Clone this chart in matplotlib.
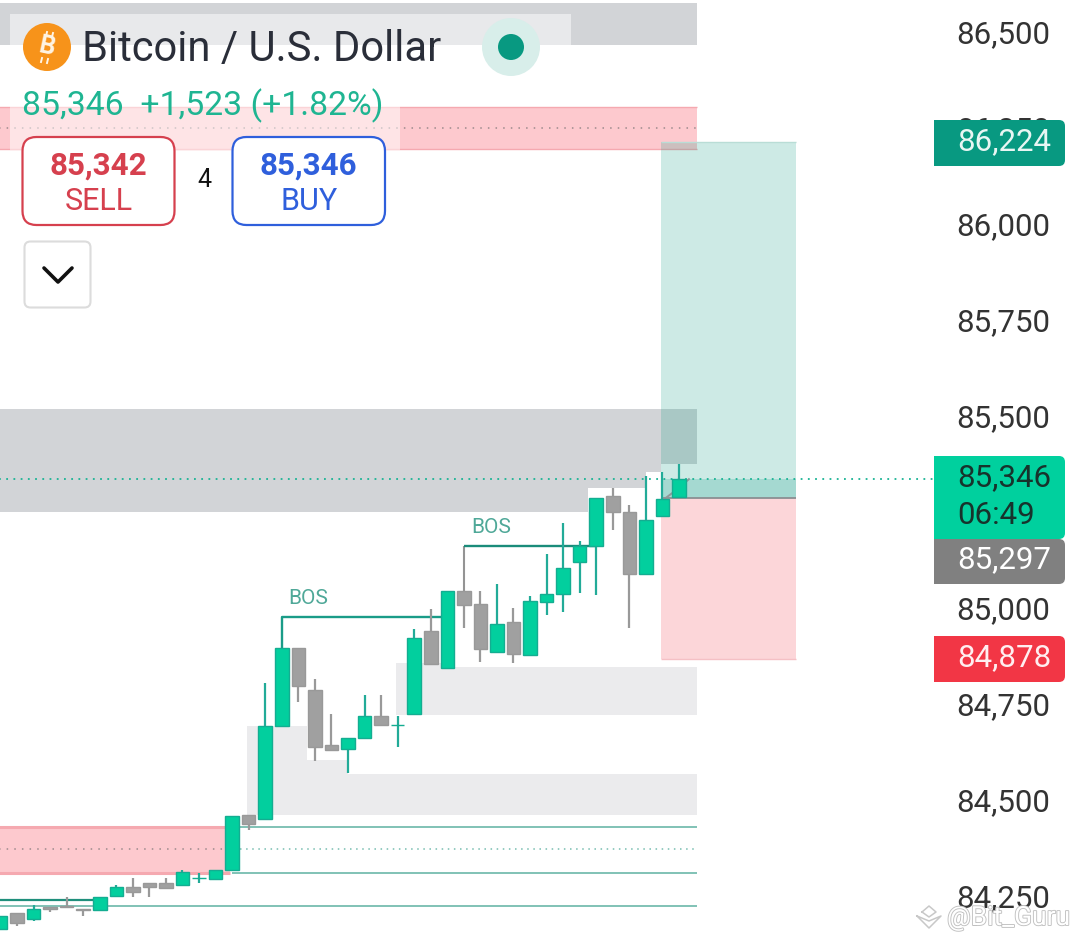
import matplotlib
matplotlib.use("Agg")
import matplotlib.pyplot as plt
import matplotlib.patheffects as pe
from matplotlib.patches import Rectangle, FancyBboxPatch, Circle
from matplotlib.transforms import ScaledTranslation

plt.rcParams['font.family'] = ['Roboto', 'DejaVu Sans']

# =============================================================================
# DATA
# =============================================================================

opens = [84175, 84216, 84201, 84232, 84235, 84227, 84224, 84261, 84285, 84294, 84294, 84288, 84307,
         84306, 84327, 84472, 84460, 84703, 84906, 84797, 84654, 84642, 84672, 84729, 84705, 84735,
         84951, 84854, 85055, 85021, 84897, 84974, 84888, 85026, 85046, 85130, 85172, 85302, 85261,
         85099, 85249, 85300]
closes = [84209, 84190, 84227, 84227, 84232, 84224, 84258, 84285, 84272, 84284, 84281, 84323, 84308,
          84328, 84469, 84448, 84703, 84906, 84806, 84649, 84641, 84672, 84729, 84706, 84706, 84932,
          84865, 85055, 85017, 84904, 84969, 84891, 85029, 85047, 85115, 85172, 85297, 85261, 85099,
          85240, 85294, 85346]
highs = [84209, 84216, 84237, 84232, 84258, 84227, 84258, 84288, 84308, 84294, 84308, 84328, 84321,
         84328, 84469, 84472, 84815, 84906, 84906, 84826, 84735, 84672, 84784, 84784, 84729, 84956,
         85008, 85055, 85055, 85055, 85073, 85011, 85042, 85151, 85232, 85185, 85297, 85323, 85279,
         85354, 85365, 85386]
lows = [84175, 84183, 84196, 84219, 84232, 84209, 84224, 84261, 84258, 84258, 84281, 84288, 84294,
        84306, 84327, 84432, 84460, 84703, 84766, 84612, 84641, 84581, 84672, 84706, 84649, 84735,
        84865, 84854, 84959, 84870, 84897, 84867, 84888, 84992, 85000, 85050, 85044, 85214, 84959,
        85099, 85249, 85300]

y_ticks = [84250, 84500, 84750, 85000, 85250, 85500, 85750, 86000, 86250, 86500]
y_tick_labels = ["84,250", "84,500", "84,750", "85,000", "", "85,500", "85,750", "86,000", "86,250", "86,500"]

last_price = 85346
prev_price = 85297
take_profit = 86224
stop_loss = 84878
bid_price = 85342
ask_price = 85346
spread = 4
change = 1523
change_pct = 1.82
countdown = "06:49"

upper_level = 84440
mid_level = 84383
lower_level = 84320
low_level = 84234
old_bos_level = 84250
bos_levels = [84987, 85172]

GREEN = "#02cf9e"
GREEN_EDGE = "#14ad91"
GREY = "#a0a0a0"
TEAL = "#089981"
RED = "#f23645"
ZONE_GREY = "#d2d4d7"
ZONE_LIGHT = "#ebebed"
ZONE_PINK = "#fdc9ce"
ZONE_PINK_EDGE = "#f5a9b0"
LEVEL = "#76bdb0"

# =============================================================================
# PRICE PANEL
# =============================================================================

fig = plt.figure(figsize=(10.79, 9.39), dpi=100)
ax = fig.add_axes([0, 0, 1, 1])
ax.set_xlim(-0.027, 65.17)
ax.set_ylim(84148.5, 86593.6)
for s in ax.spines.values():
    s.set_visible(False)
ax.xaxis.set_visible(False)
ax.yaxis.tick_right()
ax.set_yticks(y_ticks)
ax.set_yticklabels(y_tick_labels, fontsize=22.5, color="#333333")
ax.tick_params(axis="y", length=0, pad=-88.5)
shift = ScaledTranslation(0, 4.5 / 100, fig.dpi_scale_trans)
for lab in ax.get_yticklabels():
    lab.set_transform(lab.get_transform() + shift)


def zone(x0, x1, y0, y1, color, z=1, **kw):
    ax.add_patch(Rectangle((x0, y0), x1 - x0, y1 - y0, fc=color, ec="none", zorder=z, **kw))


# grey supply blocks
zone(-1, 42.09, 86476, 86586, ZONE_GREY)
zone(-1, 35.5, 85260, 85529, ZONE_GREY)
zone(35.5, 39, 85323, 85529, ZONE_GREY)
zone(39, 39.91, 85365, 85529, ZONE_GREY)
zone(39.91, 42.09, 85385, 85529, ZONE_GREY)

# pale demand blocks
zone(23.9, 27.2, 84732, 84867, ZONE_LIGHT)
zone(27.2, 42.09, 84732, 84857, ZONE_LIGHT)
zone(14.9, 18.5, 84471, 84703, ZONE_LIGHT)
zone(18.5, 21, 84471, 84615, ZONE_LIGHT)
zone(21, 42.09, 84471, 84578, ZONE_LIGHT)

# pink blocks with their mid lines
zone(-1, 42.09, 86206, 86315, ZONE_PINK)
ax.hlines([86206, 86315], -1, 42.09, color=ZONE_PINK_EDGE, lw=1, zorder=1.1)
ax.hlines(86260, -1, 42.09, color="#9c8a8c", lw=1.1, linestyle=(0, (1, 4)), zorder=1.2)
zone(-1, 13.9, 84320, 84440, ZONE_PINK)
ax.hlines([84320, 84440], -1, 13.9, color=ZONE_PINK_EDGE, lw=2.2, zorder=1.1)
ax.hlines(mid_level, -1, 13.9, color="#9c8a8c", lw=1.1, linestyle=(0, (1, 4)), zorder=1.2)
ax.hlines(mid_level, 14.5, 42.09, color=LEVEL, lw=1.1, linestyle=(0, (1, 3)), zorder=1.2)

# long position box
zone(39.91, 48.07, prev_price, take_profit, TEAL, z=1.5, alpha=0.2)
zone(39.91, 48.07, prev_price, last_price, TEAL, z=1.5, alpha=0.2)
zone(39.91, 48.07, stop_loss, prev_price, RED, z=1.5, alpha=0.2)
ax.hlines(prev_price, 39.91, 48.07, color="#8a8f92", lw=1.3, zorder=1.6)
ax.hlines(take_profit, 39.91, 48.07, color="#b9ddd6", lw=1, zorder=1.6)
ax.hlines(stop_loss, 39.91, 48.07, color="#f5c0c5", lw=1, zorder=1.6)

# horizontal levels
ax.hlines(upper_level, 14.5, 42.09, color=LEVEL, lw=1.3, zorder=1.7)
ax.hlines(lower_level, 14, 42.09, color=LEVEL, lw=1.3, zorder=1.7)
ax.hlines(low_level, -1, 42.09, color=LEVEL, lw=1.3, zorder=1.7)
ax.hlines(old_bos_level, -1, 6, color="#1f8f7c", lw=1.6, zorder=1.7)

# last price line
ax.hlines(last_price, -1, 56.4, color="#19b394", lw=1.3, linestyle=(0, (1, 3)), zorder=1.8)

# trade line from entry to last price
ax.plot([40.2, 41, 41.6], [prev_price, 85323, 85346], color="#8f9698", lw=1.4, zorder=1.9)

# BOS lines
ax.plot([17, 17, 27], [opens[17] + 200, bos_levels[0], bos_levels[0]], color="#1a9c88", lw=1.7, zorder=2)
ax.vlines(28, opens[28], bos_levels[1], color="#949494", lw=1.5, zorder=2)
ax.hlines(bos_levels[1], 28, 36, color="#1a8c7a", lw=1.7, zorder=2)
ax.text(18.6, 85035, "BOS", fontsize=15, color="#4fa898", ha="center", va="center", zorder=2)
ax.text(29.65, 85220, "BOS", fontsize=15, color="#4fa898", ha="center", va="center", zorder=2)

# candles
for i in range(len(opens)):
    up = closes[i] >= opens[i]
    wick = "#22ab98" if up else "#999999"
    face = GREEN if up else GREY
    edge = GREEN_EDGE if up else "#999999"
    ax.vlines(i, lows[i], highs[i], color=wick, lw=1.6, zorder=3)
    bottom = min(opens[i], closes[i])
    height = abs(closes[i] - opens[i])
    ax.bar(i, height, bottom=bottom, width=0.82, color=face, edgecolor=edge, linewidth=1, zorder=4)

# =============================================================================
# OVERLAY (header, buttons, price tags)
# =============================================================================

ui = fig.add_axes([0, 0, 1, 1], facecolor="none")
ui.set_xlim(0, 1079)
ui.set_ylim(939, 0)
ui.axis("off")

# translucent legend backing
ui.add_patch(Rectangle((10, 14), 561, 46, fc="white", ec="none", alpha=0.5))
ui.add_patch(Rectangle((10, 90), 390, 60, fc="white", ec="none", alpha=0.5))

# coin logo
ui.add_patch(Circle((47, 47), 24, fc="#f7931a", ec="none"))
ui.text(47, 47, "B", fontsize=18, fontweight="bold", color="#fff4e4",
        ha="center", va="center", rotation=-12)
ui.plot([47, 46], [32, 36], color="#fff4e4", lw=1.4)
ui.plot([53, 52], [33, 37], color="#fff4e4", lw=1.4)
ui.plot([42, 41], [58, 62], color="#fff4e4", lw=1.4)
ui.plot([48, 47], [59, 63], color="#fff4e4", lw=1.4)

ui.text(82, 49, "Bitcoin / U.S. Dollar", fontsize=30.1, color="#2a2e39", ha="left", va="center")
ui.add_patch(Circle((511, 47), 29, fc="#d8eeea", ec="none"))
ui.add_patch(Circle((511, 47), 13, fc=TEAL, ec="none"))

ui.text(22, 106, f"{last_price:,}  +{change:,} (+{change_pct}%)", fontsize=24.3, color="#1fb592",
        ha="left", va="center")


def button(x0, x1, color, price, label):
    ui.add_patch(FancyBboxPatch((x0, 137), x1 - x0, 88, boxstyle="round,pad=0,rounding_size=14",
                                fc="white", ec=color, lw=1.6))
    ui.text((x0 + x1) / 2, 166, f"{price:,}", fontsize=22.6, fontweight="bold", color=color,
            ha="center", va="center")
    ui.text((x0 + x1) / 2, 202, label, fontsize=22, color=color, ha="center", va="center")


button(22.5, 174.5, "#d6404e", bid_price, "SELL")
button(232.5, 385, "#2f5fdc", ask_price, "BUY")
ui.text(204, 180, str(spread), fontsize=18, color="#111111", ha="center", va="center")

ui.add_patch(FancyBboxPatch((24.5, 241.5), 66, 66, boxstyle="round,pad=0,rounding_size=6",
                            fc="white", ec="#dcdcdc", lw=1.5))
ui.plot([44, 58, 72], [268, 282, 268], color="#111111", lw=2.6, solid_capstyle="round")


def tag(y0, y1, color):
    ui.add_patch(FancyBboxPatch((934, y0), 131, y1 - y0, boxstyle="round,pad=0,rounding_size=6",
                                fc=color, ec="none", zorder=5))
    ui.add_patch(Rectangle((934, y0), 20, y1 - y0, fc=color, ec="none", zorder=5))


tag(120, 166, TEAL)
ui.text(957, 142, f"{take_profit:,}", fontsize=22.5, color="#e8f6f3", ha="left", va="center", zorder=6)
tag(456, 539, "#00d09e")
ui.text(957, 478, f"{last_price:,}", fontsize=22.5, color="#17332c", ha="left", va="center", zorder=6)
ui.text(957, 515, countdown, fontsize=22.5, color="#17332c", ha="left", va="center", zorder=6)
tag(539, 584, "#808080")
ui.text(957, 560, f"{prev_price:,}", fontsize=22.5, color="white", ha="left", va="center", zorder=6)
tag(636, 682, RED)
ui.text(957, 658, f"{stop_loss:,}", fontsize=22.5, color="#ffeef0", ha="left", va="center", zorder=6)

# watermark
ui.text(947, 918, "@Bit_Guru", fontsize=19, color="white", ha="left", va="center",
        path_effects=[pe.withStroke(linewidth=1.3, foreground="#c0c0c0")], zorder=7)
ui.plot([917, 929, 941, 929, 917], [916, 928, 916, 921, 916], color="#c8c8c8", lw=1.1, zorder=7)
ui.plot([922, 929, 936, 929, 922], [912, 906, 912, 917, 912], color="#c8c8c8", lw=1.1, zorder=7)

fig.savefig("out.png", dpi=100)
